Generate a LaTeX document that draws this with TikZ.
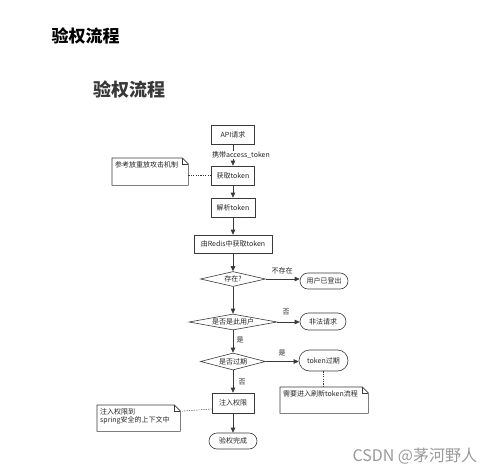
\documentclass[tikz,border=0pt]{standalone}
\usepackage{fontspec}
\setmainfont{Noto Sans CJK SC}
\usetikzlibrary{arrows.meta,shapes.geometric,shapes.misc}
\definecolor{linec}{HTML}{3A3A3A}
\definecolor{wm}{HTML}{9A9A9A}
\begin{document}
\begin{tikzpicture}[x=1pt,y=-1pt,
  every node/.style={font=\fontsize{7}{8.5}\selectfont, text=black!85},
  box/.style={draw=linec, line width=0.6pt, rectangle, inner sep=1pt, minimum width=43pt, minimum height=19pt},
  pill/.style={draw=linec, line width=0.6pt, rounded rectangle, inner sep=1pt, minimum height=17pt},
  dec/.style={draw=linec, line width=0.6pt, diamond, inner sep=0pt, shape aspect=5},
  notebox/.style={draw=none, rectangle, inner sep=3pt, anchor=north west},
  arr/.style={draw=linec, line width=0.6pt, -{Triangle[length=5pt,width=4.5pt]}},
  dashline/.style={draw=linec, line width=0.5pt, dash pattern=on 1.2pt off 1.2pt},
  lbl/.style={inner sep=0.5pt},
]
\useasboundingbox[fill=white] (0,0) rectangle (501,474);

% titles
\node[anchor=west, font=\fontsize{17}{20}\selectfont\bfseries, text=black] (t1) at (48,36) {验权流程};
\node[anchor=west, font=\fontsize{18}{21}\selectfont\bfseries, text=black!78] (t2) at (90,90) {验权流程};

% main column
\node[box] (api) at (233,134.5) {API请求};
\node[box] (get) at (233,175.5) {获取token};
\node[box, minimum width=44pt] (parse) at (233,207.5) {解析token};
\node[box, minimum width=78pt, minimum height=18pt] (redis) at (233,244) {由Redis中获取token};
\node[dec, minimum width=65pt, minimum height=15pt] (exists) at (233,279) {存在?};
\node[pill, minimum width=50pt, minimum height=16pt] (logout) at (324,281) {用户已登出};
\node[dec, minimum width=88pt, minimum height=16pt] (isuser) at (233,322) {是否是此用户};
\node[pill, minimum width=48pt] (illegal) at (323,321.5) {非法请求};
\node[dec, minimum width=65pt, minimum height=17pt] (expired) at (233,361.5) {是否过期};
\node[pill, minimum width=51pt, minimum height=21pt] (tokenexp) at (323.5,360.5) {token过期};
\node[box, minimum width=42pt, minimum height=20pt] (inject) at (233,403) {注入权限};
\node[pill, minimum width=50pt, minimum height=16pt] (done) at (233,441) {验权完成};

% notes
\node[notebox] (note1) at (112,158) {\parbox[c][21pt][t]{70pt}{参考放重放攻击机制}};
\node[notebox] (note2) at (97,405) {\parbox[c][20pt][t]{77pt}{\raggedright 注入权限到\\spring安全的上下文中}};
\node[notebox] (note3) at (280,387) {\parbox[c][20pt][t]{82pt}{需要进入刷新token流程}};
\foreach \n in {note1,note2,note3}{
  \draw[linec, line width=0.6pt] (\n.north west) -- ([xshift=-6pt]\n.north east) -- ([yshift=-6pt]\n.north east) -- (\n.south east) -- (\n.south west) -- cycle;
  \draw[linec, line width=0.6pt] ([xshift=-6pt]\n.north east) -- ([xshift=-6pt,yshift=-6pt]\n.north east) -- ([yshift=-6pt]\n.north east);
}

% connectors
\draw[arr] (api) -- (get);
\node[lbl, fill=white] (l0) at (241,155) {携带access\_token};
\draw[arr] (get) -- (parse);
\draw[arr] (parse) -- (redis);
\draw[arr] (redis) -- (exists);
\draw[arr] (exists.east) -- (exists.east -| logout.west);
\node[lbl] (l1) at (282,271) {不存在};
\draw[arr] (exists) -- (isuser);
\draw[arr] (isuser.east) -- (isuser.east -| illegal.west);
\node[lbl] (l2) at (286,312) {否};
\draw[arr] (isuser) -- (expired);
\node[lbl] (l3) at (240,340) {是};
\draw[arr] (expired.east) -- (expired.east -| tokenexp.west);
\node[lbl] (l4) at (282,353) {是};
\draw[arr] (expired) -- (inject);
\node[lbl] (l5) at (242,382) {否};
\draw[arr] (inject) -- (done);

% dashed note links
\draw[dashline] (get.west) -- (get.west -| note1.east);
\draw[dashline] ([yshift=-6pt]inject.west) -- ([yshift=7pt]note2.east);
\draw[dashline] (tokenexp.south) -- (tokenexp.south |- note3.north);

% watermark
\node[anchor=west, font=\fontsize{16}{19}\selectfont, text=wm] (wmk) at (349,456.5) {CSDN @茅河野人};
\end{tikzpicture}
\end{document}
